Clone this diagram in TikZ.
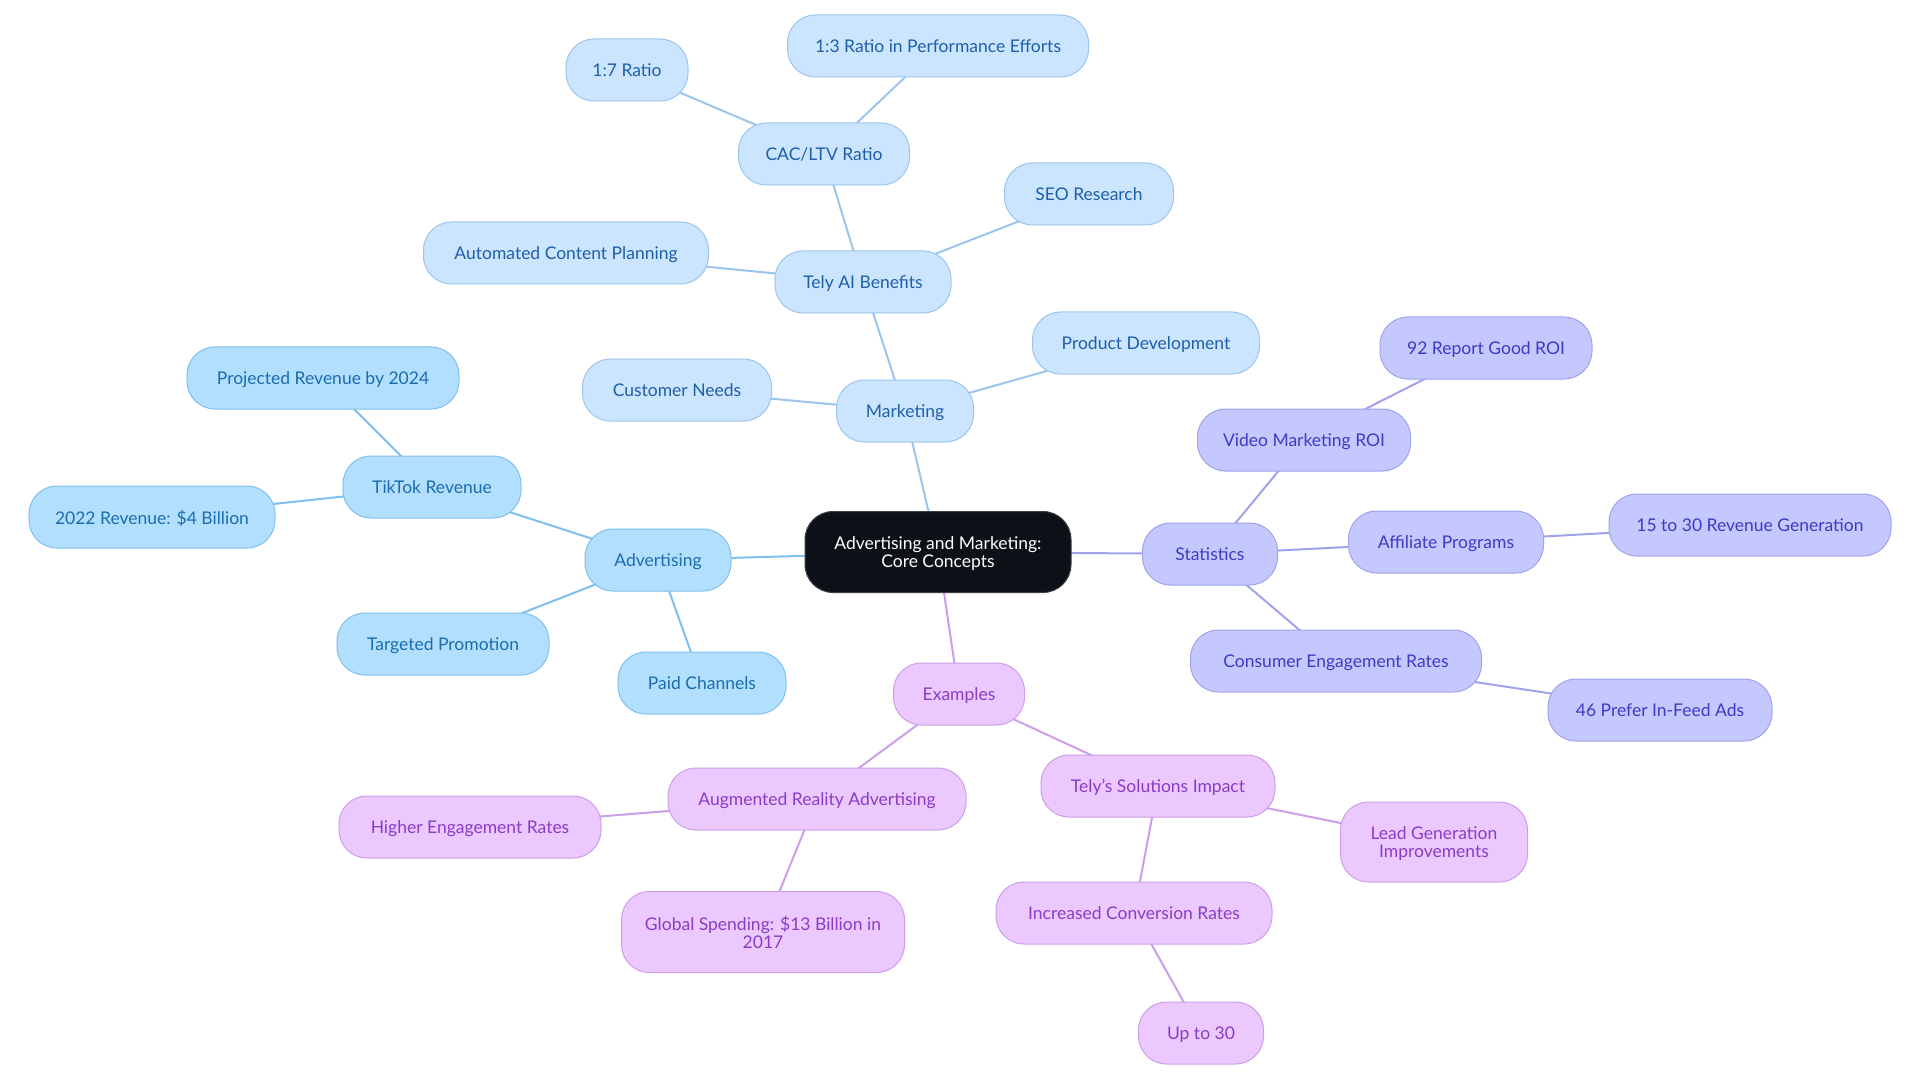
\documentclass[tikz,border=0pt]{standalone}
\usepackage{fontspec}
\setmainfont{Lato}
\usetikzlibrary{backgrounds}
\definecolor{advF}{HTML}{B3DFFF}\definecolor{advD}{HTML}{7FC0EE}\definecolor{advT}{HTML}{1A6DAF}
\definecolor{mktF}{HTML}{CCE5FF}\definecolor{mktD}{HTML}{9CC5EC}\definecolor{mktT}{HTML}{1E5FA8}
\definecolor{staF}{HTML}{C5C8FF}\definecolor{staD}{HTML}{9FA3EA}\definecolor{staT}{HTML}{3B3BC4}
\definecolor{exaF}{HTML}{EBC9FF}\definecolor{exaD}{HTML}{CB9FEA}\definecolor{exaT}{HTML}{8A3CC6}
\definecolor{rootF}{HTML}{0D1117}
\tikzset{
  box/.style={rounded corners=28pt, minimum height=62pt, inner sep=0pt, line width=1pt, align=center,
    text depth=0pt, font=\fontsize{17.5}{18}\selectfont},
  root/.style={box, fill=rootF, draw=rootF!80!white, text=white, minimum height=81pt},
  adv/.style={box, fill=advF, draw=advD, text=advT},
  mkt/.style={box, fill=mktF, draw=mktD, text=mktT},
  sta/.style={box, fill=staF, draw=staD, text=staT},
  exa/.style={box, fill=exaF, draw=exaD, text=exaT},
  ladv/.style={draw=advD, line width=2pt},
  lmkt/.style={draw=mktD, line width=2pt},
  lsta/.style={draw=staD, line width=2pt},
  lexa/.style={draw=exaD, line width=2pt},
}
\begin{document}
\begin{tikzpicture}[x=1pt,y=-1pt]
\useasboundingbox (0,0) rectangle (1920,1083);
% root
\node[root, minimum width=266pt] (root) at (938,552) {Advertising and Marketing:\\Core Concepts};
% advertising
\node[adv, minimum width=146pt] (adv) at (658,560) {Advertising};
\node[adv, minimum width=178pt] (tik) at (432,487) {TikTok Revenue};
\node[adv, minimum width=272pt] (proj) at (323,378) {Projected Revenue by 2024};
\node[adv, minimum width=246pt] (rev22) at (152,517) {2022 Revenue: \$4 Billion};
\node[adv, minimum width=212pt] (targ) at (443,644) {Targeted Promotion};
\node[adv, minimum width=168pt] (paid) at (702,683) {Paid Channels};
% marketing
\node[mkt, minimum width=137pt] (mkt) at (905,411) {Marketing};
\node[mkt, minimum width=189pt] (cust) at (677,390) {Customer Needs};
\node[mkt, minimum width=227pt] (prod) at (1146,343) {Product Development};
\node[mkt, minimum width=176pt] (tely) at (863,282) {Tely AI Benefits};
\node[mkt, minimum width=285pt] (auto) at (566,253) {Automated Content Planning};
\node[mkt, minimum width=169pt] (seo) at (1089,194) {SEO Research};
\node[mkt, minimum width=171pt] (cac) at (824,154) {CAC/LTV Ratio};
\node[mkt, minimum width=122pt] (r17) at (627,70) {1:7 Ratio};
\node[mkt, minimum width=301pt] (r13) at (938,46) {1:3 Ratio in Performance Efforts};
% statistics
\node[sta, minimum width=135pt] (sta) at (1210,554) {Statistics};
\node[sta, minimum width=213pt] (video) at (1304,440) {Video Marketing ROI};
\node[sta, minimum width=212pt] (good) at (1486,348) {92 Report Good ROI};
\node[sta, minimum width=195pt] (aff) at (1446,542) {Affiliate Programs};
\node[sta, minimum width=282pt] (r1530) at (1750,525) {15 to 30 Revenue Generation};
\node[sta, minimum width=291pt] (cons) at (1336,661) {Consumer Engagement Rates};
\node[sta, minimum width=224pt] (feed) at (1660,710) {46 Prefer In-Feed Ads};
% examples
\node[exa, minimum width=131pt] (exa) at (959,694) {Examples};
\node[exa, minimum width=298pt] (ar) at (817,799) {Augmented Reality Advertising};
\node[exa, minimum width=262pt] (high) at (470,827) {Higher Engagement Rates};
\node[exa, minimum width=283pt, minimum height=81pt] (glob) at (763,932) {Global Spending: \$13 Billion in\\2017};
\node[exa, minimum width=234pt] (sol) at (1158,786) {Tely's Solutions Impact};
\node[exa, minimum width=187pt, minimum height=80pt] (lead) at (1434,842) {Lead Generation\\Improvements};
\node[exa, minimum width=276pt] (incr) at (1134,913) {Increased Conversion Rates};
\node[exa, minimum width=125pt] (up) at (1201,1033) {Up to 30};
\begin{pgfonlayer}{background}
\fill[white] (0,0) rectangle (1920,1083);
\draw[ladv] (root.center) -- (adv.center);
\draw[ladv] (adv.center) -- (tik.center);
\draw[ladv] (adv.center) -- (targ.center);
\draw[ladv] (adv.center) -- (paid.center);
\draw[ladv] (tik.center) -- (proj.center);
\draw[ladv] (tik.center) -- (rev22.center);
\draw[lmkt] (root.center) -- (mkt.center);
\draw[lmkt] (mkt.center) -- (cust.center);
\draw[lmkt] (mkt.center) -- (prod.center);
\draw[lmkt] (mkt.center) -- (tely.center);
\draw[lmkt] (tely.center) -- (auto.center);
\draw[lmkt] (tely.center) -- (seo.center);
\draw[lmkt] (tely.center) -- (cac.center);
\draw[lmkt] (cac.center) -- (r17.center);
\draw[lmkt] (cac.center) -- (r13.center);
\draw[lsta] (root.center) -- (sta.center);
\draw[lsta] (sta.center) -- (video.center);
\draw[lsta] (sta.center) -- (aff.center);
\draw[lsta] (sta.center) -- (cons.center);
\draw[lsta] (video.center) -- (good.center);
\draw[lsta] (aff.center) -- (r1530.center);
\draw[lsta] (cons.center) -- (feed.center);
\draw[lexa] (root.center) -- (exa.center);
\draw[lexa] (exa.center) -- (ar.center);
\draw[lexa] (exa.center) -- (sol.center);
\draw[lexa] (ar.center) -- (high.center);
\draw[lexa] (ar.center) -- (glob.center);
\draw[lexa] (sol.center) -- (lead.center);
\draw[lexa] (sol.center) -- (incr.center);
\draw[lexa] (incr.center) -- (up.center);
\end{pgfonlayer}
\end{tikzpicture}
\end{document}
